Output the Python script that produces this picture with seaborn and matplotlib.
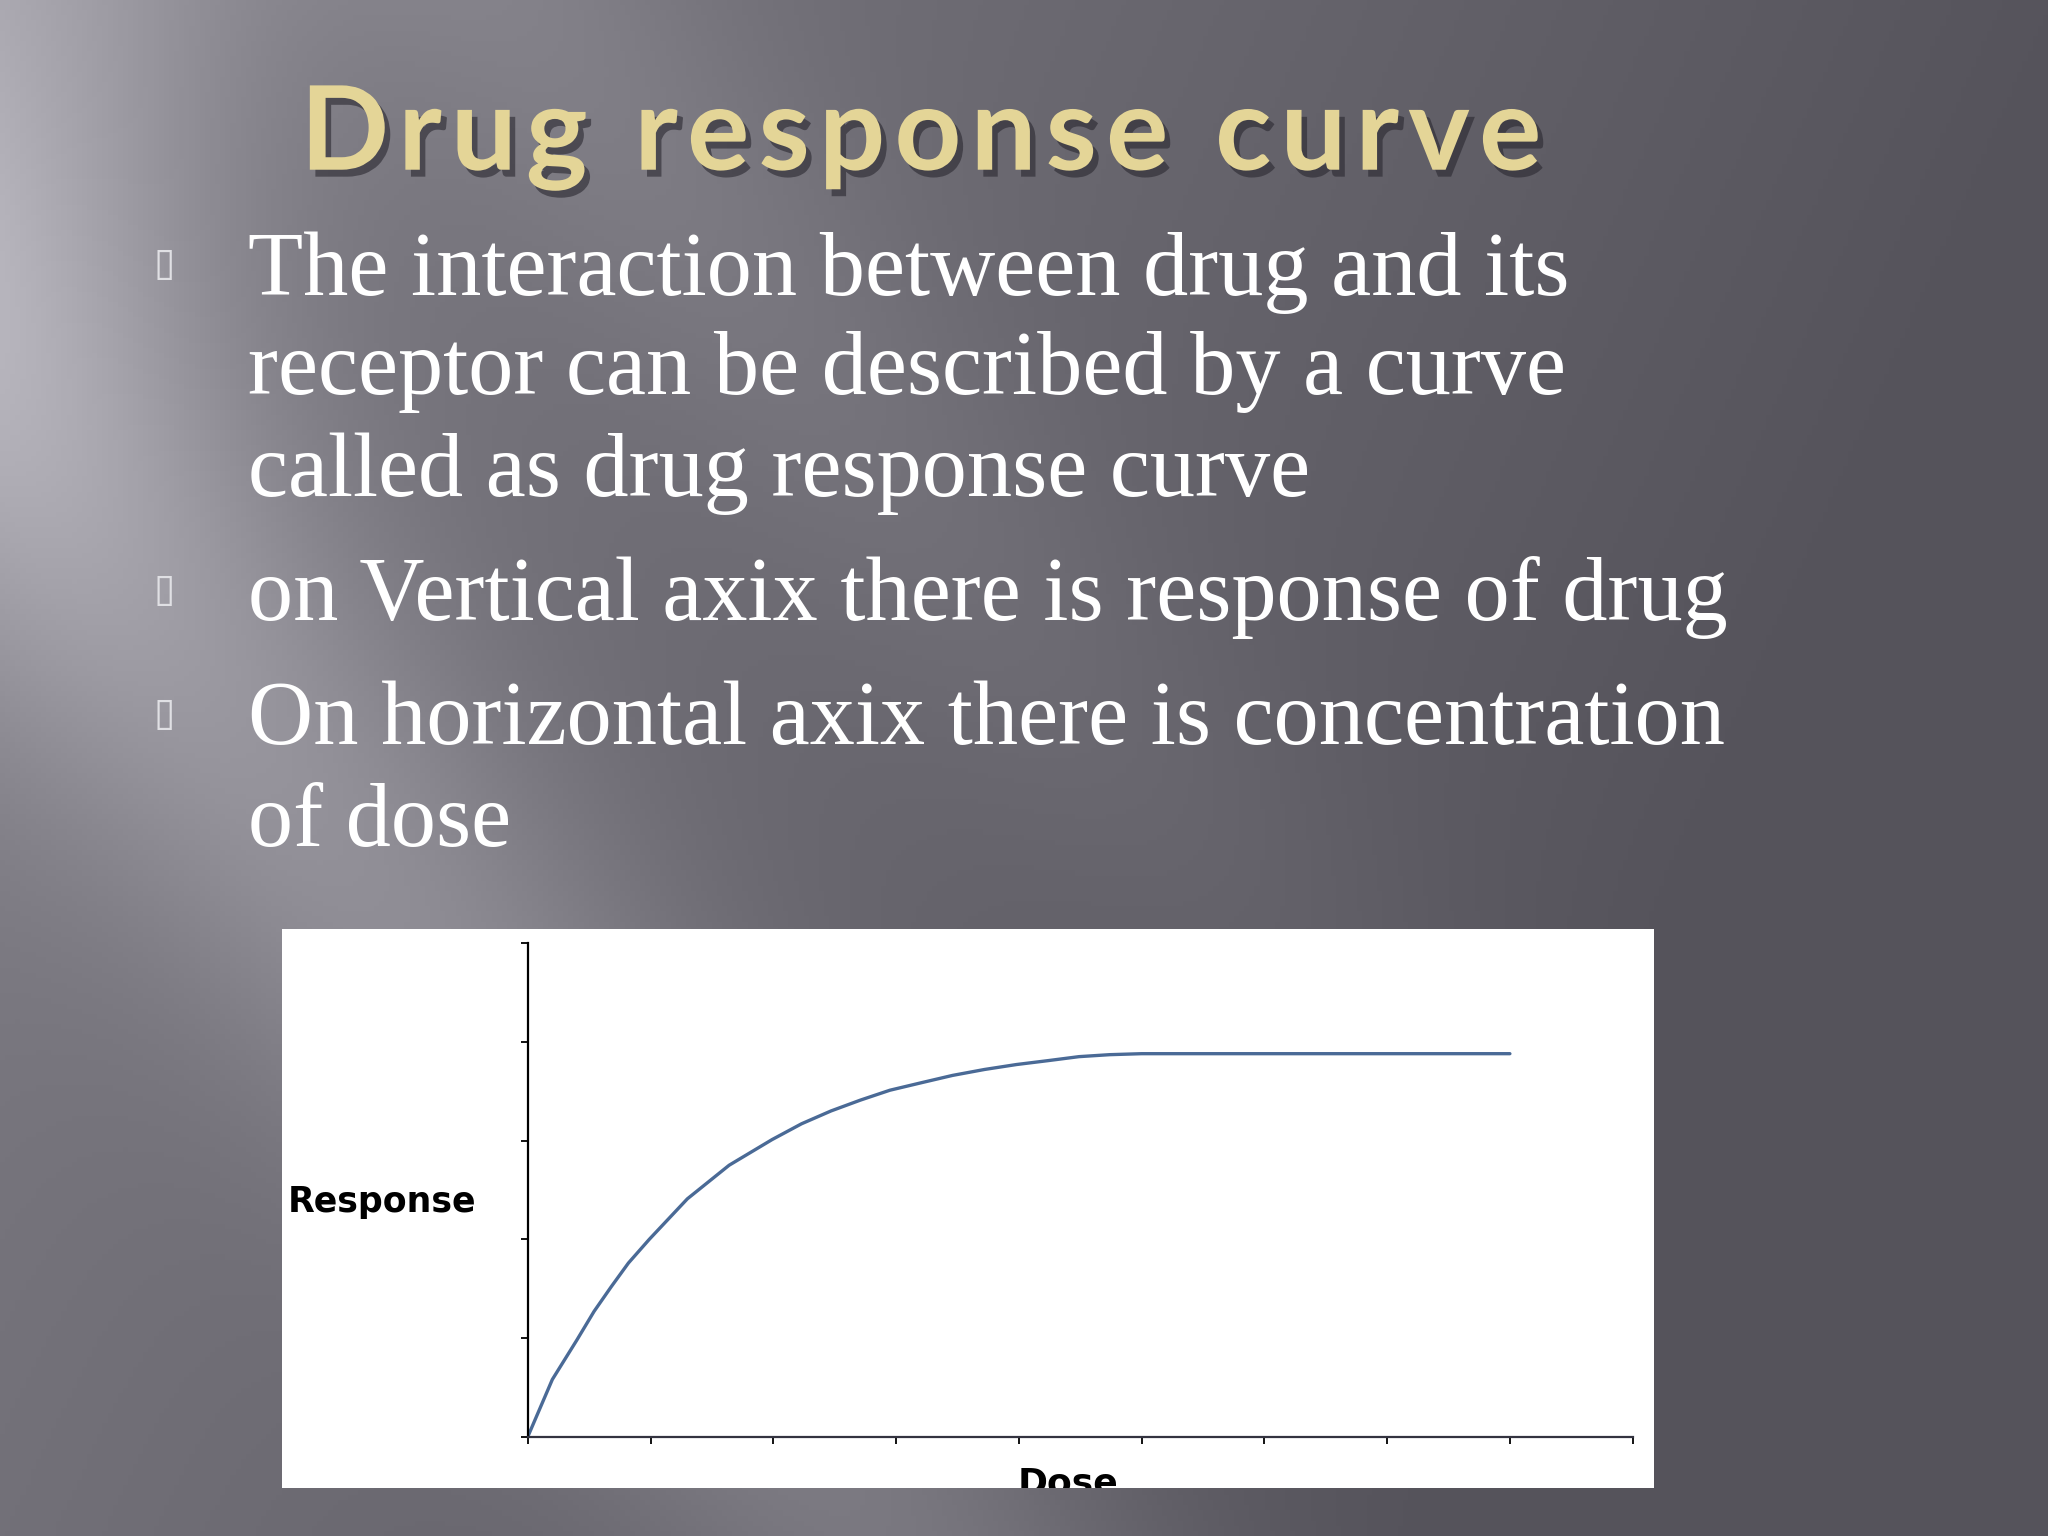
import numpy as np
import seaborn as sns
import matplotlib.pyplot as plt
import matplotlib.patheffects as pe
from matplotlib.patches import Rectangle

# Data
dose = [0.0, 0.1, 0.2, 0.4, 0.54, 0.68, 0.82, 0.99, 1.3, 1.47, 1.64, 1.99, 2.23, 2.47, 2.71,
        2.95, 3.22, 3.46, 3.72, 3.98, 4.24, 4.49, 4.74, 5.0, 6.0, 7.0, 8.0]
response = [0.0, 0.29, 0.58, 0.98, 1.27, 1.52, 1.76, 2.0, 2.41, 2.58, 2.75, 3.01, 3.17, 3.3, 3.41,
            3.51, 3.59, 3.66, 3.72, 3.77, 3.81, 3.85, 3.87, 3.88, 3.88, 3.88, 3.88]
x_ticks = list(range(0, 10))
y_ticks = list(range(0, 6))

title = "Drug response curve"
lines = ["The interaction between drug and its",
         "receptor can be described by a curve",
         "called as drug response curve",
         "on Vertical axix there is response of drug",
         "On horizontal axix there is concentration",
         "of dose"]
bullet_lines = [0, 3, 4]

sns.set_style("white")
plt.rcParams['font.family'] = ['DejaVu Sans']

fig = plt.figure(figsize=(20.48, 15.36), dpi=100)

# slide background: grey gradient with light diagonal streaks
bg = fig.add_axes([0, 0, 1, 1])
bg.set_zorder(-1)
h, w = 300, 400
yy, xx = np.mgrid[0:h, 0:w]
u = xx / w
v = yy / h
base = 128 - 42 * u - 14 * v
d = u - 0.6 * (v - 0.28)
streak = 40 * np.exp(-(d / 0.13) ** 2) * (1 - 0.35 * v)
d2 = u - 0.6 * v - 0.25
streak2 = 14 * np.exp(-(d2 / 0.1) ** 2) * (1 - v)
corner = 35 * np.exp(-((u / 0.12) ** 2 + (v / 0.35) ** 2))
g = np.clip(base + streak + streak2 + corner, 85, 200)
img = np.stack([g, g - 2, g + 6], axis=-1) / 255.0
bg.imshow(np.clip(img, 0, 1), aspect='auto', extent=[0, 1, 0, 1])
bg.set_axis_off()

# title, placed letter by letter to get the wide tracking of the slide
renderer = fig.canvas.get_renderer()
t_kw = dict(fontsize=84, family='Lato', fontweight='bold')


def text_w(s):
    t = fig.text(0, 0, s, **t_kw)
    wd = t.get_window_extent(renderer).width
    t.remove()
    return wd


fig_w = fig.bbox.width
left, right = 0.1467 * fig_w, 0.7526 * fig_w
ref_w = text_w("I")
starts = [text_w(title[:i] + "I") - ref_w if i > 0 else 0 for i in range(len(title))]
natural = text_w(title)
track = ((right - left) - natural) / (len(title) - 1)
shadow = [pe.withSimplePatchShadow(offset=(4, -5), shadow_rgbFace='#2a2830', alpha=0.6)]
for i, ch in enumerate(title):
    if ch == " ":
        continue
    fig.text((left + starts[i] + i * track) / fig_w, 0.8895, ch, ha='left', va='baseline',
             color='#e4d597', path_effects=shadow, **t_kw)

# bullet text
line_y = [0.8078, 0.7432, 0.6769, 0.5961, 0.5153, 0.4490]
for i, (t, y) in enumerate(zip(lines, line_y)):
    fig.text(0.1212, y, t, ha='left', va='baseline', fontsize=65,
             family='Liberation Serif', color='white')
    if i in bullet_lines:
        fig.text(0.0804, y + 0.020, "\u25af", ha='center', va='center',
                 fontsize=28, color='#e0e0e4', family='DejaVu Sans')

# white picture box
box = Rectangle((0.1378, 0.0315), 0.6696, 0.3639, transform=fig.transFigure,
                facecolor='white', edgecolor='none', zorder=1)
fig.patches.append(box)

ax = fig.add_axes([0.2577, 0.0646, 0.5395, 0.3214])
ax.set_zorder(2)
ax.patch.set_alpha(0)
sns.lineplot(x=dose, y=response, ax=ax, color='#4a6a96', linewidth=2.4)
ax.set_xlim(0, 9)
ax.set_ylim(0, 5)
ax.set_xticks(x_ticks)
ax.set_yticks(y_ticks)
ax.set_xticklabels([])
ax.set_yticklabels([])
ax.tick_params(axis='both', direction='out', length=5, width=1.3, color='black',
               bottom=True, left=True)
for s in ['top', 'right']:
    ax.spines[s].set_visible(False)
for s in ['left', 'bottom']:
    ax.spines[s].set_color('black')
    ax.spines[s].set_linewidth(1.6)
ax.spines['bottom'].set_color('#333340')

fig.text(0.1403, 0.2177, "Response", ha='left', va='center', fontsize=25,
         fontweight='bold', color='black', family='DejaVu Sans', zorder=3)
dose_lbl = fig.text(0.5217, 0.0451, "Dose", ha='center', va='top', fontsize=26,
                    fontweight='bold', color='black', family='DejaVu Sans', zorder=3)
dose_lbl.set_clip_path(box)

fig.savefig("out.png", dpi=100)
